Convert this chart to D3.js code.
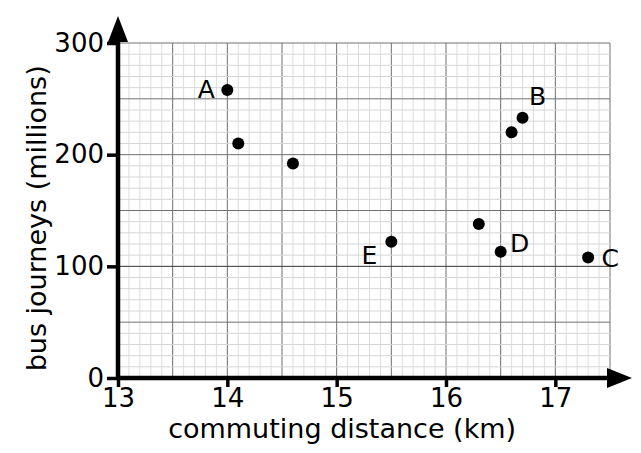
<!DOCTYPE html>
<html>
<head>
<meta charset="utf-8">
<script src="https://cdn.jsdelivr.net/npm/d3@7"></script>
<style>
  body { margin: 0; background: #fff; }
  text { font-family: "DejaVu Sans", sans-serif; fill: #000; }
</style>
</head>
<body>
<div id="chart"></div>
<script>
// data
var distanceKm = [14.0, 14.1, 14.6, 15.5, 16.3, 16.5, 16.6, 16.7, 17.3];
var busJourneys = [258, 210, 192, 122, 138, 113, 220, 233, 108];
var pointNames = ["A", "", "", "E", "", "D", "", "B", "C"];
var xTicks = [13, 14, 15, 16, 17];
var yTicks = [0, 100, 200, 300];

// label offsets from its point (layout only)
var labelOffset = {
    A: [-21, 0],
    B: [15, -21],
    C: [22, 1],
    D: [19, -8],
    E: [-22, 14]
};

var margin = { top: 43, right: 31, bottom: 75, left: 118 };
var width = 641 - margin.left - margin.right,
    height = 453 - margin.top - margin.bottom;

var svg = d3.select("#chart").append("svg")
    .attr("width", 641)
    .attr("height", 453)
    .append("g")
    .attr("transform", "translate(" + margin.left + "," + margin.top + ")");

var x = d3.scaleLinear().domain([13, 17.5]).range([0, width]);
var y = d3.scaleLinear().domain([0, 300]).range([height, 0]);

// grid: fine lines every 0.1 km / 10 million, stronger every 0.5 km / 50 million
var grid = svg.append("g").attr("class", "grid");

var xFine = d3.range(0, 46).map(function (i) { return 13 + i / 10; });
var yFine = d3.range(0, 31).map(function (i) { return i * 10; });

grid.selectAll(".vx")
    .data(xFine)
    .enter()
    .append("line")
    .attr("x1", function (d) { return x(d); })
    .attr("x2", function (d) { return x(d); })
    .attr("y1", 0)
    .attr("y2", height)
    .attr("stroke", function (d, i) { return i % 5 == 0 ? "#707070" : "#dcdcdc"; })
    .attr("stroke-width", 1);

grid.selectAll(".hy")
    .data(yFine)
    .enter()
    .append("line")
    .attr("x1", 0)
    .attr("x2", width)
    .attr("y1", function (d) { return y(d); })
    .attr("y2", function (d) { return y(d); })
    .attr("stroke", function (d, i) {
        if (d == 100) return "#333";
        return i % 5 == 0 ? "#707070" : "#d6d6d6";
    })
    .attr("stroke-width", 1);

// axes
var xAxis = d3.axisBottom(x)
    .tickValues(xTicks)
    .tickFormat(d3.format("d"))
    .tickSize(9)
    .tickPadding(2);

var yAxis = d3.axisLeft(y)
    .tickValues(yTicks)
    .tickSize(11)
    .tickPadding(3);

var gx = svg.append("g")
    .attr("transform", "translate(0," + height + ")")
    .call(xAxis);

var gy = svg.append("g")
    .call(yAxis);

[gx, gy].forEach(function (g) {
    g.select(".domain").remove();
    g.selectAll(".tick line").attr("stroke", "#000").attr("stroke-width", 3.5);
    g.selectAll(".tick text")
        .attr("font-size", "26px")
        .style("font-family", "'DejaVu Sans', sans-serif")
        .attr("fill", "#000");
});

// thick axis lines with arrow heads
svg.append("line")
    .attr("x1", 0).attr("x2", width + 2)
    .attr("y1", height).attr("y2", height)
    .attr("stroke", "#000").attr("stroke-width", 4.5);

svg.append("line")
    .attr("x1", 0).attr("x2", 0)
    .attr("y1", height + 2).attr("y2", -2)
    .attr("stroke", "#000").attr("stroke-width", 4.5);

svg.append("path")
    .attr("d", "M" + (width - 3) + "," + (height - 10) +
        "L" + (width + 22) + "," + height +
        "L" + (width - 3) + "," + (height + 10) + "Z")
    .attr("fill", "#000");

svg.append("path")
    .attr("d", "M-10,-1L0,-27L10,-1Z")
    .attr("fill", "#000");

// axis titles
svg.append("text")
    .attr("x", x(15.05))
    .attr("y", height + 60)
    .attr("text-anchor", "middle")
    .attr("font-size", "27px")
    .text("commuting distance (km)");

svg.append("text")
    .attr("transform", "translate(-72," + y(143) + ") rotate(-90)")
    .attr("text-anchor", "middle")
    .attr("font-size", "27px")
    .text("bus journeys (millions)");

// points
var points = distanceKm.map(function (d, i) {
    return { x: d, y: busJourneys[i], name: pointNames[i] };
});

svg.selectAll(".dot")
    .data(points)
    .enter()
    .append("circle")
    .attr("class", "dot")
    .attr("cx", function (d) { return x(d.x); })
    .attr("cy", function (d) { return y(d.y); })
    .attr("r", 6)
    .attr("fill", "#000");

svg.selectAll(".name")
    .data(points.filter(function (d) { return d.name; }))
    .enter()
    .append("text")
    .attr("class", "name")
    .attr("x", function (d) { return x(d.x) + labelOffset[d.name][0]; })
    .attr("y", function (d) { return y(d.y) + labelOffset[d.name][1]; })
    .attr("text-anchor", "middle")
    .attr("dominant-baseline", "central")
    .attr("font-size", "25px")
    .text(function (d) { return d.name; });
</script>
</body>
</html>
